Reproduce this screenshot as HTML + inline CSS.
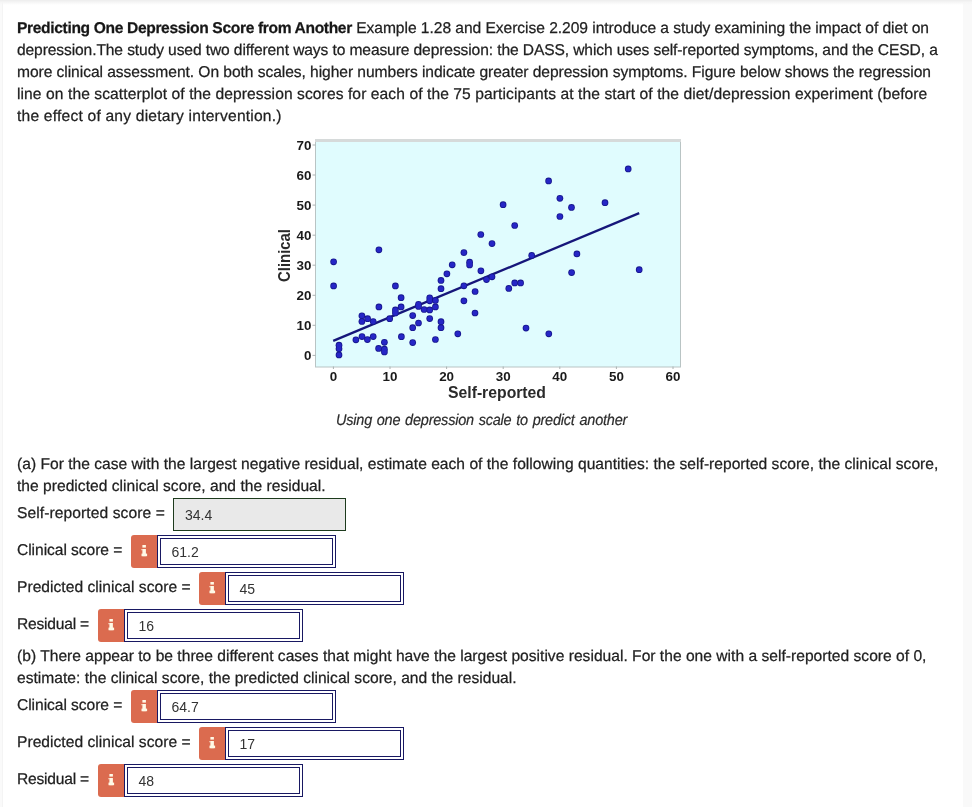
<!DOCTYPE html>
<html><head><meta charset="utf-8"><title>Predicting One Depression Score from Another</title>
<style>
html,body{margin:0;padding:0;}
body{width:972px;height:807px;overflow:hidden;position:relative;background:#fff;font-family:"Liberation Sans",Arial,sans-serif;color:#1f1f1f;}
.topbar{position:absolute;left:0;top:0;width:972px;height:4.5px;background:linear-gradient(#ededed,#f6f6f6 45%,rgba(255,255,255,0));}
.lstrip{position:absolute;left:0;top:0;width:3px;height:807px;background:linear-gradient(to right,#fafafa 0,#fafafa 2px,#f4f4f4 2px);}
.rstrip{position:absolute;left:963px;top:0;width:9px;height:807px;background:#f9f9f9;}
.t{position:absolute;left:17px;white-space:nowrap;font-size:15.6px;line-height:22px;height:22px;text-rendering:geometricPrecision;-webkit-text-stroke:0.25px #1f1f1f;}
.t b{font-weight:bold;color:#161616;}
.chart{position:absolute;left:260px;top:130px;}
.cap{position:absolute;left:336px;transform:scaleX(0.93);transform-origin:0 0;word-spacing:1px;top:409.7px;font-style:italic;white-space:nowrap;font-size:15.6px;line-height:22px;color:#2c2c2c;text-rendering:geometricPrecision;-webkit-text-stroke:0.2px #2c2c2c;}
.ib{position:absolute;width:26px;height:33px;background:#db6b4f;border-radius:3px 0 0 3px;}
.ib svg{display:block;}
.in{position:absolute;width:177px;height:31px;border:1px solid #181862;background:#fff;}
.inn{position:absolute;left:2px;top:2px;width:171px;height:25px;border:1px solid #181862;}
.in span,.gb span{position:absolute;left:13.5px;top:0;line-height:33px;font-size:14px;color:#333;font-family:"Liberation Sans",Arial,sans-serif;}
.gb{position:absolute;width:171px;height:31px;border:1px solid #1d3b1d;background:#e9e9e9;}
.gb span{left:11px;}
</style></head><body>
<div class="lstrip"></div><div class="rstrip"></div><div class="topbar"></div>
<div class="t" style="top:17.7px;letter-spacing:-0.045px"><b style="letter-spacing:-0.3512px">Predicting One Depression Score from Another</b> Example 1.28 and Exercise 2.209 introduce a study examining the impact of diet on</div>
<div class="t" style="top:39.6px;letter-spacing:-0.111px">depression.The study used two different ways to measure depression: the DASS, which uses self-reported symptoms, and the CESD, a</div>
<div class="t" style="top:61.6px;letter-spacing:-0.058px">more clinical assessment. On both scales, higher numbers indicate greater depression symptoms. Figure below shows the regression</div>
<div class="t" style="top:83.5px;letter-spacing:0.085px">line on the scatterplot of the depression scores for each of the 75 participants at the start of the diet/depression experiment (before</div>
<div class="t" style="top:105.5px;letter-spacing:0.210px">the effect of any dietary intervention.)</div>
<div class="t" style="top:453.8px;letter-spacing:0.012px">(a) For the case with the largest negative residual, estimate each of the following quantities: the self-reported score, the clinical score,</div>
<div class="t" style="top:475.6px;letter-spacing:0.019px">the predicted clinical score, and the residual.</div>
<div class="t" style="top:645.8px;letter-spacing:0.012px">(b) There appear to be three different cases that might have the largest positive residual. For the one with a self-reported score of 0,</div>
<div class="t" style="top:667.7px;letter-spacing:0.004px">estimate: the clinical score, the predicted clinical score, and the residual.</div>

<svg class="chart" width="440" height="310" viewBox="260 130 440 310">
<rect x="315" y="139" width="366" height="228.5" fill="#b9c4c4"/>
<rect x="315" y="139" width="366" height="3" fill="#d6dada"/>
<rect x="316" y="142" width="364" height="224.5" fill="#e0fcfe"/>
<path d="M312.5 355.4H315.5M312.5 325.3H315.5M312.5 295.3H315.5M312.5 265.2H315.5M312.5 235.2H315.5M312.5 205.1H315.5M312.5 175.0H315.5M312.5 145.0H315.5M333.4 366.5V369M390.0 366.5V369M446.6 366.5V369M503.2 366.5V369M559.8 366.5V369M616.4 366.5V369M673.0 366.5V369" stroke="#aab2b2" stroke-width="1" fill="none"/>
<line x1="333.2" y1="340.9" x2="639.2" y2="213.1" stroke="#16167a" stroke-width="2.3" stroke-linecap="butt"/>
<g fill="#16168e">
<circle cx="333.6" cy="261.8" r="3.35"/>
<circle cx="333.6" cy="285.9" r="3.35"/>
<circle cx="339.0" cy="345.2" r="3.35"/>
<circle cx="339.0" cy="348.8" r="3.35"/>
<circle cx="339.0" cy="354.9" r="3.35"/>
<circle cx="355.9" cy="339.8" r="3.35"/>
<circle cx="362.0" cy="336.6" r="3.35"/>
<circle cx="367.4" cy="339.6" r="3.35"/>
<circle cx="373.2" cy="336.6" r="3.35"/>
<circle cx="384.4" cy="342.3" r="3.35"/>
<circle cx="378.6" cy="348.4" r="3.35"/>
<circle cx="384.4" cy="349.2" r="3.35"/>
<circle cx="384.4" cy="352.0" r="3.35"/>
<circle cx="378.9" cy="249.8" r="3.35"/>
<circle cx="395.4" cy="285.9" r="3.35"/>
<circle cx="401.1" cy="297.7" r="3.35"/>
<circle cx="378.9" cy="306.9" r="3.35"/>
<circle cx="401.1" cy="306.9" r="3.35"/>
<circle cx="395.4" cy="309.9" r="3.35"/>
<circle cx="395.4" cy="313.0" r="3.35"/>
<circle cx="361.9" cy="315.8" r="3.35"/>
<circle cx="367.6" cy="318.7" r="3.35"/>
<circle cx="361.9" cy="321.5" r="3.35"/>
<circle cx="373.2" cy="321.5" r="3.35"/>
<circle cx="389.7" cy="318.7" r="3.35"/>
<circle cx="412.7" cy="315.6" r="3.35"/>
<circle cx="412.7" cy="327.7" r="3.35"/>
<circle cx="412.7" cy="342.6" r="3.35"/>
<circle cx="401.4" cy="336.7" r="3.35"/>
<circle cx="418.5" cy="304.3" r="3.35"/>
<circle cx="418.5" cy="306.5" r="3.35"/>
<circle cx="429.7" cy="297.8" r="3.35"/>
<circle cx="429.7" cy="300.8" r="3.35"/>
<circle cx="435.4" cy="300.4" r="3.35"/>
<circle cx="435.4" cy="306.9" r="3.35"/>
<circle cx="424.1" cy="309.5" r="3.35"/>
<circle cx="429.7" cy="309.9" r="3.35"/>
<circle cx="418.5" cy="323.0" r="3.35"/>
<circle cx="429.7" cy="318.6" r="3.35"/>
<circle cx="441.0" cy="321.7" r="3.35"/>
<circle cx="441.0" cy="327.7" r="3.35"/>
<circle cx="435.4" cy="339.5" r="3.35"/>
<circle cx="441.0" cy="280.4" r="3.35"/>
<circle cx="441.0" cy="288.7" r="3.35"/>
<circle cx="446.9" cy="273.8" r="3.35"/>
<circle cx="452.2" cy="264.8" r="3.35"/>
<circle cx="463.9" cy="252.6" r="3.35"/>
<circle cx="469.6" cy="262.2" r="3.35"/>
<circle cx="469.6" cy="265.0" r="3.35"/>
<circle cx="463.9" cy="285.8" r="3.35"/>
<circle cx="463.9" cy="300.8" r="3.35"/>
<circle cx="475.1" cy="291.5" r="3.35"/>
<circle cx="475.0" cy="313.0" r="3.35"/>
<circle cx="457.8" cy="333.8" r="3.35"/>
<circle cx="480.8" cy="234.5" r="3.35"/>
<circle cx="492.0" cy="243.6" r="3.35"/>
<circle cx="480.9" cy="270.8" r="3.35"/>
<circle cx="486.5" cy="279.6" r="3.35"/>
<circle cx="492.0" cy="276.8" r="3.35"/>
<circle cx="503.1" cy="204.7" r="3.35"/>
<circle cx="514.7" cy="225.5" r="3.35"/>
<circle cx="508.8" cy="288.4" r="3.35"/>
<circle cx="514.7" cy="282.9" r="3.35"/>
<circle cx="520.6" cy="282.9" r="3.35"/>
<circle cx="531.7" cy="255.4" r="3.35"/>
<circle cx="548.6" cy="180.9" r="3.35"/>
<circle cx="559.9" cy="198.3" r="3.35"/>
<circle cx="571.5" cy="207.4" r="3.35"/>
<circle cx="559.9" cy="216.5" r="3.35"/>
<circle cx="576.9" cy="253.9" r="3.35"/>
<circle cx="571.6" cy="272.6" r="3.35"/>
<circle cx="605.0" cy="202.7" r="3.35"/>
<circle cx="628.2" cy="168.9" r="3.35"/>
<circle cx="639.2" cy="269.7" r="3.35"/>
<circle cx="526.0" cy="328.1" r="3.35"/>
<circle cx="548.8" cy="333.8" r="3.35"/>
</g>
<g fill="#2626c6">
<circle cx="333.6" cy="261.8" r="2.5"/>
<circle cx="333.6" cy="285.9" r="2.5"/>
<circle cx="339.0" cy="345.2" r="2.5"/>
<circle cx="339.0" cy="348.8" r="2.5"/>
<circle cx="339.0" cy="354.9" r="2.5"/>
<circle cx="355.9" cy="339.8" r="2.5"/>
<circle cx="362.0" cy="336.6" r="2.5"/>
<circle cx="367.4" cy="339.6" r="2.5"/>
<circle cx="373.2" cy="336.6" r="2.5"/>
<circle cx="384.4" cy="342.3" r="2.5"/>
<circle cx="378.6" cy="348.4" r="2.5"/>
<circle cx="384.4" cy="349.2" r="2.5"/>
<circle cx="384.4" cy="352.0" r="2.5"/>
<circle cx="378.9" cy="249.8" r="2.5"/>
<circle cx="395.4" cy="285.9" r="2.5"/>
<circle cx="401.1" cy="297.7" r="2.5"/>
<circle cx="378.9" cy="306.9" r="2.5"/>
<circle cx="401.1" cy="306.9" r="2.5"/>
<circle cx="395.4" cy="309.9" r="2.5"/>
<circle cx="395.4" cy="313.0" r="2.5"/>
<circle cx="361.9" cy="315.8" r="2.5"/>
<circle cx="367.6" cy="318.7" r="2.5"/>
<circle cx="361.9" cy="321.5" r="2.5"/>
<circle cx="373.2" cy="321.5" r="2.5"/>
<circle cx="389.7" cy="318.7" r="2.5"/>
<circle cx="412.7" cy="315.6" r="2.5"/>
<circle cx="412.7" cy="327.7" r="2.5"/>
<circle cx="412.7" cy="342.6" r="2.5"/>
<circle cx="401.4" cy="336.7" r="2.5"/>
<circle cx="418.5" cy="304.3" r="2.5"/>
<circle cx="418.5" cy="306.5" r="2.5"/>
<circle cx="429.7" cy="297.8" r="2.5"/>
<circle cx="429.7" cy="300.8" r="2.5"/>
<circle cx="435.4" cy="300.4" r="2.5"/>
<circle cx="435.4" cy="306.9" r="2.5"/>
<circle cx="424.1" cy="309.5" r="2.5"/>
<circle cx="429.7" cy="309.9" r="2.5"/>
<circle cx="418.5" cy="323.0" r="2.5"/>
<circle cx="429.7" cy="318.6" r="2.5"/>
<circle cx="441.0" cy="321.7" r="2.5"/>
<circle cx="441.0" cy="327.7" r="2.5"/>
<circle cx="435.4" cy="339.5" r="2.5"/>
<circle cx="441.0" cy="280.4" r="2.5"/>
<circle cx="441.0" cy="288.7" r="2.5"/>
<circle cx="446.9" cy="273.8" r="2.5"/>
<circle cx="452.2" cy="264.8" r="2.5"/>
<circle cx="463.9" cy="252.6" r="2.5"/>
<circle cx="469.6" cy="262.2" r="2.5"/>
<circle cx="469.6" cy="265.0" r="2.5"/>
<circle cx="463.9" cy="285.8" r="2.5"/>
<circle cx="463.9" cy="300.8" r="2.5"/>
<circle cx="475.1" cy="291.5" r="2.5"/>
<circle cx="475.0" cy="313.0" r="2.5"/>
<circle cx="457.8" cy="333.8" r="2.5"/>
<circle cx="480.8" cy="234.5" r="2.5"/>
<circle cx="492.0" cy="243.6" r="2.5"/>
<circle cx="480.9" cy="270.8" r="2.5"/>
<circle cx="486.5" cy="279.6" r="2.5"/>
<circle cx="492.0" cy="276.8" r="2.5"/>
<circle cx="503.1" cy="204.7" r="2.5"/>
<circle cx="514.7" cy="225.5" r="2.5"/>
<circle cx="508.8" cy="288.4" r="2.5"/>
<circle cx="514.7" cy="282.9" r="2.5"/>
<circle cx="520.6" cy="282.9" r="2.5"/>
<circle cx="531.7" cy="255.4" r="2.5"/>
<circle cx="548.6" cy="180.9" r="2.5"/>
<circle cx="559.9" cy="198.3" r="2.5"/>
<circle cx="571.5" cy="207.4" r="2.5"/>
<circle cx="559.9" cy="216.5" r="2.5"/>
<circle cx="576.9" cy="253.9" r="2.5"/>
<circle cx="571.6" cy="272.6" r="2.5"/>
<circle cx="605.0" cy="202.7" r="2.5"/>
<circle cx="628.2" cy="168.9" r="2.5"/>
<circle cx="639.2" cy="269.7" r="2.5"/>
<circle cx="526.0" cy="328.1" r="2.5"/>
<circle cx="548.8" cy="333.8" r="2.5"/>
</g>
<g font-family="Liberation Sans, sans-serif" font-weight="bold" font-size="13.4" fill="#1a1a1a" text-anchor="end">
<text x="311.5" y="360.2">0</text>
<text x="311.5" y="330.1">10</text>
<text x="311.5" y="300.1">20</text>
<text x="311.5" y="270.0">30</text>
<text x="311.5" y="240.0">40</text>
<text x="311.5" y="209.9">50</text>
<text x="311.5" y="179.8">60</text>
<text x="311.5" y="149.8">70</text>
</g>
<g font-family="Liberation Sans, sans-serif" font-weight="bold" font-size="13.4" fill="#1a1a1a" text-anchor="middle">
<text x="333.4" y="380.9">0</text>
<text x="390.0" y="380.9">10</text>
<text x="446.6" y="380.9">20</text>
<text x="503.2" y="380.9">30</text>
<text x="559.8" y="380.9">40</text>
<text x="616.4" y="380.9">50</text>
<text x="673.0" y="380.9">60</text>
</g>
<text x="497" y="397.8" font-family="Liberation Sans, sans-serif" font-weight="bold" font-size="16" fill="#2a2a2a" text-anchor="middle" textLength="98" lengthAdjust="spacingAndGlyphs">Self-reported</text>
<text transform="translate(289.6,255.5) rotate(-90)" font-family="Liberation Sans, sans-serif" font-weight="bold" font-size="17" fill="#2a2a2a" text-anchor="middle" textLength="53" lengthAdjust="spacingAndGlyphs">Clinical</text>
</svg>
<div class="cap" style="letter-spacing:-0.227px">Using one depression scale to predict another</div>
<div class="t" style="top:503.0px;letter-spacing:0.085px">Self-reported score =</div>
<div class="t" style="top:540.0px;letter-spacing:-0.053px">Clinical score =</div>
<div class="t" style="top:577.0px;letter-spacing:0.028px">Predicted clinical score =</div>
<div class="t" style="top:614.0px;letter-spacing:-0.211px">Residual =</div>
<div class="t" style="top:695.0px;letter-spacing:-0.053px">Clinical score =</div>
<div class="t" style="top:732.0px;letter-spacing:0.028px">Predicted clinical score =</div>
<div class="t" style="top:769.0px;letter-spacing:-0.211px">Residual =</div>

<div class="gb" style="left:173px;top:498px"><span>34.4</span></div>
<div class="ib" style="left:131px;top:535px"><svg width="26" height="33" viewBox="0 0 26 33"><g fill="#fff9e6"><rect x="11.4" y="10" width="3.5" height="2.6"/><rect x="11.4" y="14" width="3.5" height="7.2"/><rect x="10.5" y="14" width="1" height="1.3"/><rect x="10.5" y="18.6" width="5.6" height="2.6"/></g></svg></div><div class="in" style="left:157px;top:535px"><div class="inn"></div><span>61.2</span></div>
<div class="ib" style="left:199px;top:572px"><svg width="26" height="33" viewBox="0 0 26 33"><g fill="#fff9e6"><rect x="11.4" y="10" width="3.5" height="2.6"/><rect x="11.4" y="14" width="3.5" height="7.2"/><rect x="10.5" y="14" width="1" height="1.3"/><rect x="10.5" y="18.6" width="5.6" height="2.6"/></g></svg></div><div class="in" style="left:225px;top:572px"><div class="inn"></div><span>45</span></div>
<div class="ib" style="left:98px;top:609px"><svg width="26" height="33" viewBox="0 0 26 33"><g fill="#fff9e6"><rect x="11.4" y="10" width="3.5" height="2.6"/><rect x="11.4" y="14" width="3.5" height="7.2"/><rect x="10.5" y="14" width="1" height="1.3"/><rect x="10.5" y="18.6" width="5.6" height="2.6"/></g></svg></div><div class="in" style="left:124px;top:609px"><div class="inn"></div><span>16</span></div>
<div class="ib" style="left:131px;top:690px"><svg width="26" height="33" viewBox="0 0 26 33"><g fill="#fff9e6"><rect x="11.4" y="10" width="3.5" height="2.6"/><rect x="11.4" y="14" width="3.5" height="7.2"/><rect x="10.5" y="14" width="1" height="1.3"/><rect x="10.5" y="18.6" width="5.6" height="2.6"/></g></svg></div><div class="in" style="left:157px;top:690px"><div class="inn"></div><span>64.7</span></div>
<div class="ib" style="left:199px;top:727px"><svg width="26" height="33" viewBox="0 0 26 33"><g fill="#fff9e6"><rect x="11.4" y="10" width="3.5" height="2.6"/><rect x="11.4" y="14" width="3.5" height="7.2"/><rect x="10.5" y="14" width="1" height="1.3"/><rect x="10.5" y="18.6" width="5.6" height="2.6"/></g></svg></div><div class="in" style="left:225px;top:727px"><div class="inn"></div><span>17</span></div>
<div class="ib" style="left:98px;top:764px"><svg width="26" height="33" viewBox="0 0 26 33"><g fill="#fff9e6"><rect x="11.4" y="10" width="3.5" height="2.6"/><rect x="11.4" y="14" width="3.5" height="7.2"/><rect x="10.5" y="14" width="1" height="1.3"/><rect x="10.5" y="18.6" width="5.6" height="2.6"/></g></svg></div><div class="in" style="left:124px;top:764px"><div class="inn"></div><span>48</span></div>

</body></html>
